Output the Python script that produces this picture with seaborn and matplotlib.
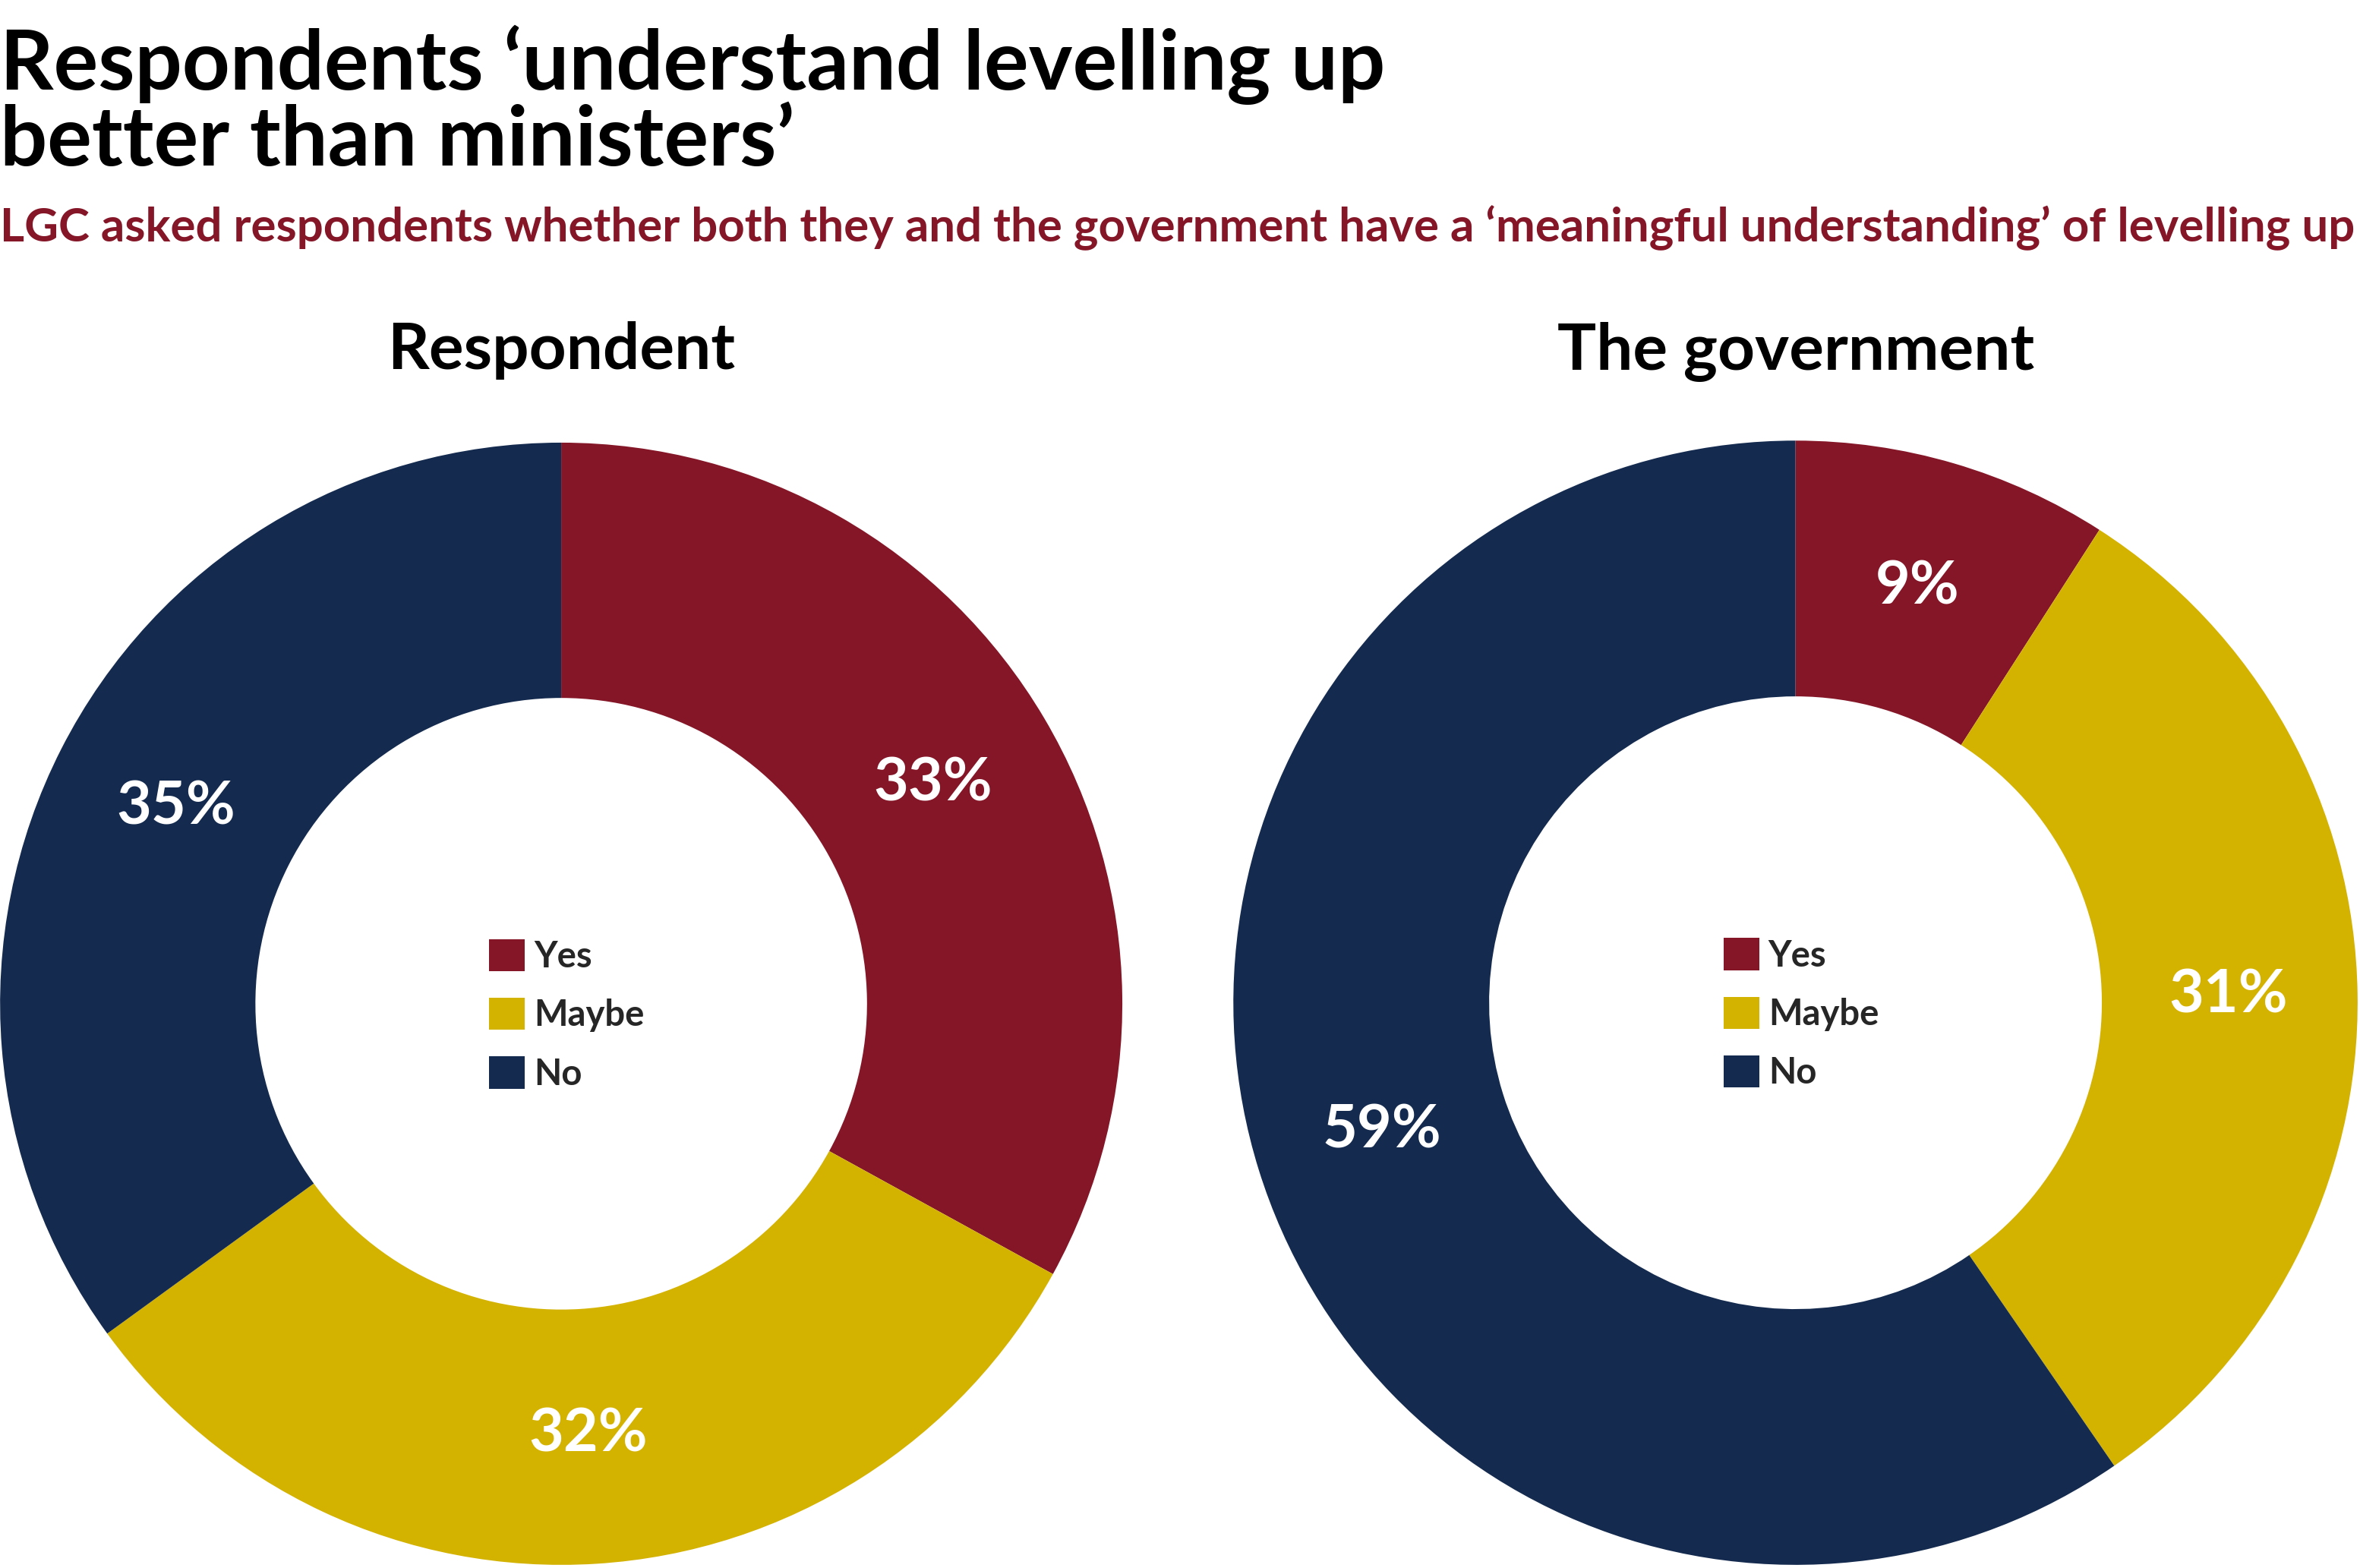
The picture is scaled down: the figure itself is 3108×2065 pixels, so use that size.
import matplotlib
matplotlib.use("Agg")
import matplotlib.pyplot as plt
import seaborn as sns

antwoorden = ["Yes", "Maybe", "No"]
respondent_vals = [33, 32, 35]
rzad_vals = [9, 31, 59]
panel_titles = ["Respondent", "The government"]
kolory = ["#841628", "#D4B200", "#142A4E"]

sns.set_theme(style="white")
plt.rcParams["font.family"] = ["Lato", "DejaVu Sans"]

fig = plt.figure(figsize=(31.08, 20.65), dpi=100)
fig.patch.set_facecolor("white")

fig.text(0.0, 0.9430, "Respondents \u2018understand levelling up", fontsize=79,
         fontweight="bold", va="baseline", ha="left", color="black")
fig.text(0.0, 0.8945, "better than ministers\u2019", fontsize=79,
         fontweight="bold", va="baseline", ha="left", color="black")
fig.text(0.0, 0.846, "LGC asked respondents whether both they and the government have a "
         "\u2018meaningful understanding\u2019 of levelling up",
         fontsize=44.5, fontweight="bold", va="baseline", ha="left", color="#841628")

pozycje = [(0.0, 0.002, 0.4756, 0.7157), (0.5226, 0.002, 0.4764, 0.7170)]
srodki_x = [0.2378, 0.7608]

for poz, vals, tytul, cx in zip(pozycje, [respondent_vals, rzad_vals], panel_titles, srodki_x):
    ax = fig.add_axes(poz)
    wedges, _, autotexts = ax.pie(
        vals, colors=kolory, startangle=90, counterclock=False,
        autopct="%1.0f%%", pctdistance=0.77,
        wedgeprops=dict(width=0.455, edgecolor="none"),
        textprops=dict(color="white", fontsize=57, fontweight="bold"))
    for t, v in zip(autotexts, vals):
        t.set_text(f"{v}%")
    ax.set_xlim(-1, 1)
    ax.set_ylim(-1, 1)
    ax.set_aspect("equal")
    ax.axis("off")
    ax.legend(wedges, antwoorden, loc="center", frameon=False,
              prop=dict(size=34, weight="bold"),
              handlelength=1.0, handleheight=1.0,
              handletextpad=0.25, labelspacing=0.68,
              bbox_to_anchor=(0.505, 0.49))
    fig.text(cx, 0.7647, tytul, fontsize=61.5, fontweight="bold",
             ha="center", va="baseline", color="black")

fig.savefig("out.png", dpi=100, facecolor="white")
